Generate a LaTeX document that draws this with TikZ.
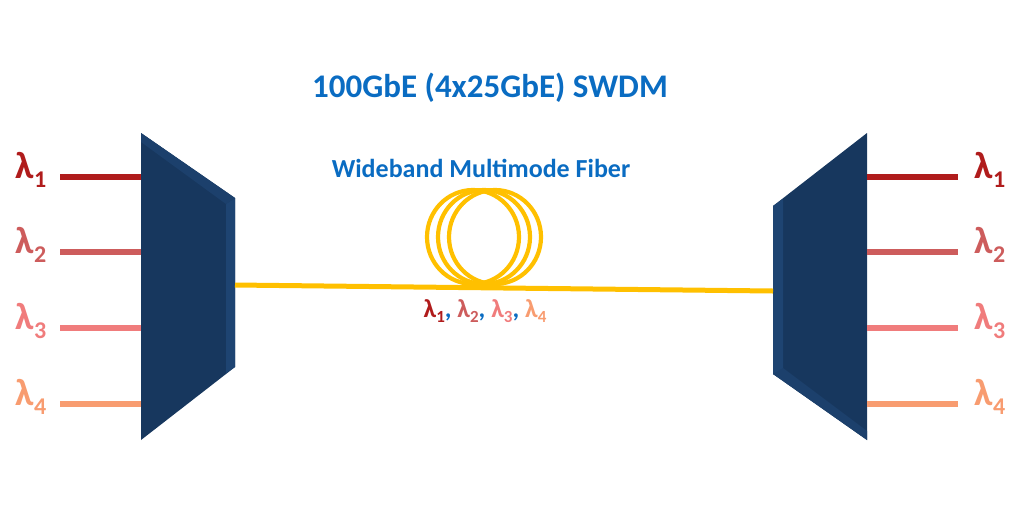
\documentclass[tikz,border=0pt]{standalone}
\usepackage{fontspec}
\setmainfont{Carlito}
\definecolor{navy}{HTML}{17375E}
\definecolor{navyedge}{HTML}{1E4472}
\definecolor{lamA}{HTML}{B01C1C}
\definecolor{lamB}{HTML}{CD5C5C}
\definecolor{lamC}{HTML}{F07C7C}
\definecolor{lamD}{HTML}{F89C70}
\definecolor{fib}{HTML}{FFC000}
\definecolor{ttl}{HTML}{0A6CC2}
\tikzset{
  chan/.style={line width=6.5pt},
  lam/.style={font=\fontsize{38}{38}\selectfont\bfseries, inner sep=0pt},
  fiber/.style={draw=fib, line width=5pt},
  coil/.style={draw=fib, line width=4.2pt},
}
\newcommand{\lm}[2]{\textcolor{#1}{λ\raisebox{-0.25em}{\fontsize{24}{24}\selectfont #2}}}
\newcommand{\lms}[2]{\textcolor{#1}{λ\raisebox{-0.22em}{\fontsize{17}{17}\selectfont #2}}}
\begin{document}
\begin{tikzpicture}[x=1pt,y=-1pt]
\useasboundingbox (0,0) rectangle (1024,512);
% left mux
\fill[navy] (141,133) -- (235,198) -- (235,367) -- (141,440) -- cycle;
\fill[navyedge] (226,204) -- (235,198) -- (235,367) -- (226,373) -- cycle;
\fill[navyedge!70!navy] (141,133) -- (235,198) -- (226,204) -- (141,142) -- cycle;
\coordinate (L1) at (141,177); \coordinate (L2) at (141,252);
\coordinate (L3) at (141,328); \coordinate (L4) at (141,404);
\coordinate (Lout) at (235,285);
% right mux
\fill[navy] (867,133) -- (773,206) -- (773,374) -- (867,440) -- cycle;
\fill[navyedge] (783,199) -- (773,206) -- (773,374) -- (783,380) -- cycle;
\fill[navyedge!70!navy] (773,374) -- (783,368) -- (867,431) -- (867,440) -- cycle;
\coordinate (R1) at (867,177); \coordinate (R2) at (867,252);
\coordinate (R3) at (867,328); \coordinate (R4) at (867,404);
\coordinate (Rin) at (773,291);
% left channels
\node[lam] (la1) at (31,170) {\lm{lamA}{1}};
\node[lam] (la2) at (31,245) {\lm{lamB}{2}};
\node[lam] (la3) at (31,321) {\lm{lamC}{3}};
\node[lam] (la4) at (31,397) {\lm{lamD}{4}};
\coordinate (la1e) at (60,177); \coordinate (la2e) at (60,252);
\coordinate (la3e) at (60,328); \coordinate (la4e) at (60,404);
\draw[chan, lamA] (la1e) -- (L1);
\draw[chan, lamB] (la2e) -- (L2);
\draw[chan, lamC] (la3e) -- (L3);
\draw[chan, lamD] (la4e) -- (L4);
% right channels
\node[lam] (ra1) at (990,170) {\lm{lamA}{1}};
\node[lam] (ra2) at (990,245) {\lm{lamB}{2}};
\node[lam] (ra3) at (990,321) {\lm{lamC}{3}};
\node[lam] (ra4) at (990,397) {\lm{lamD}{4}};
\coordinate (ra1e) at (958,177); \coordinate (ra2e) at (958,252);
\coordinate (ra3e) at (958,328); \coordinate (ra4e) at (958,404);
\draw[chan, lamA] (R1) -- (ra1e);
\draw[chan, lamB] (R2) -- (ra2e);
\draw[chan, lamC] (R3) -- (ra3e);
\draw[chan, lamD] (R4) -- (ra4e);
% fiber and coil
\draw[coil] (473,237) ellipse [x radius=46, y radius=47];
\draw[coil] (484,237) ellipse [x radius=46, y radius=47];
\draw[coil] (495,237) ellipse [x radius=46, y radius=47];
\draw[fiber] (Lout) -- (Rin);
% texts
\node[text=ttl, font=\fontsize{33}{33}\selectfont\bfseries] (title) at (490,88) {100GbE (4x25GbE) SWDM};
\node[text=ttl, font=\fontsize{26}{26}\selectfont\bfseries] (sub) at (481,168) {Wideband Multimode Fiber};
\node[font=\fontsize{26}{26}\selectfont\bfseries, inner sep=0pt] (wl) at (485,311)
  {\lms{lamA}{1}\textcolor{ttl}{,} \lms{lamB}{2}\textcolor{ttl}{,} \lms{lamC}{3}\textcolor{ttl}{,} \lms{lamD}{4}};
\end{tikzpicture}
\end{document}
